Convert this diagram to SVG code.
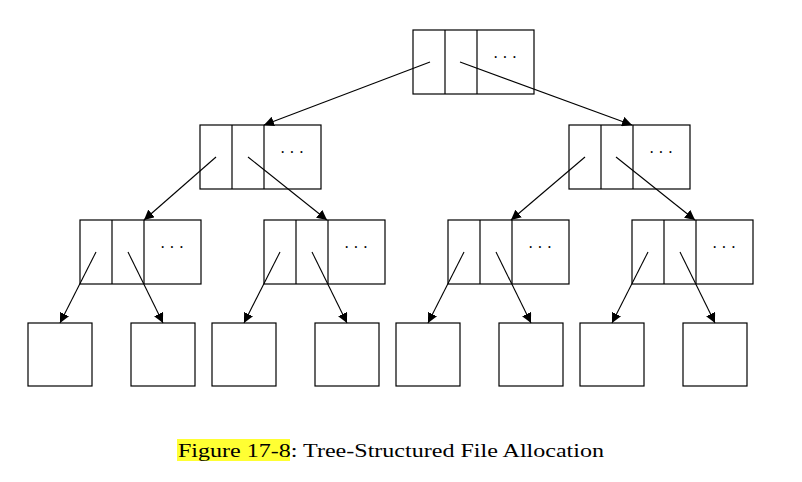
<svg xmlns="http://www.w3.org/2000/svg" width="802" height="482" viewBox="0 0 802 482">
<style>
.b{fill:none;stroke:#000;stroke-width:1.2}
.c line{stroke:#000;stroke-width:1.1;marker-end:url(#a)}
.d{font-family:"Liberation Serif",serif;font-size:16px}
.t{font-family:"Liberation Serif",serif;font-size:19px}
</style>
<defs>
<marker id="a" viewBox="0 0 10 10" refX="10" refY="5" markerWidth="10" markerHeight="10" markerUnits="userSpaceOnUse" orient="auto"><path d="M0,0L10,5L0,10z"/></marker>
<symbol id="n" overflow="visible"><rect class="b" x="0" y="0" width="121" height="64"/><line class="b" x1="32" y1="0" x2="32" y2="64"/><line class="b" x1="64" y1="0" x2="64" y2="64"/><text class="d" x="80" y="33">· · ·</text></symbol>
</defs>
<rect width="802" height="482" fill="#fff"/>
<g id="root"><use href="#n" x="413" y="30"/></g>
<g id="n1"><use href="#n" x="200" y="125"/></g>
<g id="n2"><use href="#n" x="569" y="125"/></g>
<g id="n11"><use href="#n" x="80" y="220"/></g>
<g id="n12"><use href="#n" x="264" y="220"/></g>
<g id="n21"><use href="#n" x="448" y="220"/></g>
<g id="n22"><use href="#n" x="632" y="220"/></g>
<g id="leaves" class="b">
<rect x="28" y="323" width="64" height="63"/><rect x="131" y="323" width="64" height="63"/>
<rect x="212" y="323" width="64" height="63"/><rect x="315" y="323" width="64" height="63"/>
<rect x="396" y="323" width="64" height="63"/><rect x="499" y="323" width="64" height="63"/>
<rect x="580" y="323" width="64" height="63"/><rect x="683" y="323" width="64" height="63"/>
</g>
<g id="connectors" class="c">
<line x1="430" y1="62" x2="264" y2="125"/><line x1="460" y1="62" x2="632" y2="125"/>
<line x1="216" y1="157" x2="144" y2="220"/><line x1="248" y1="157" x2="327" y2="220"/>
<line x1="585" y1="157" x2="511" y2="220"/><line x1="616" y1="157" x2="695" y2="220"/>
<line x1="96" y1="252" x2="60" y2="323"/><line x1="128" y1="252" x2="163" y2="323"/>
<line x1="280" y1="252" x2="244" y2="323"/><line x1="312" y1="252" x2="347" y2="323"/>
<line x1="464" y1="252" x2="428" y2="323"/><line x1="496" y1="252" x2="531" y2="323"/>
<line x1="648" y1="252" x2="612" y2="323"/><line x1="680" y1="252" x2="715" y2="323"/>
</g>
<rect x="177" y="439" width="113" height="22" fill="#ffff33"/>
<text class="t" x="178" y="457" textLength="426" lengthAdjust="spacingAndGlyphs">Figure 17-8: Tree-Structured File Allocation</text>
</svg>
